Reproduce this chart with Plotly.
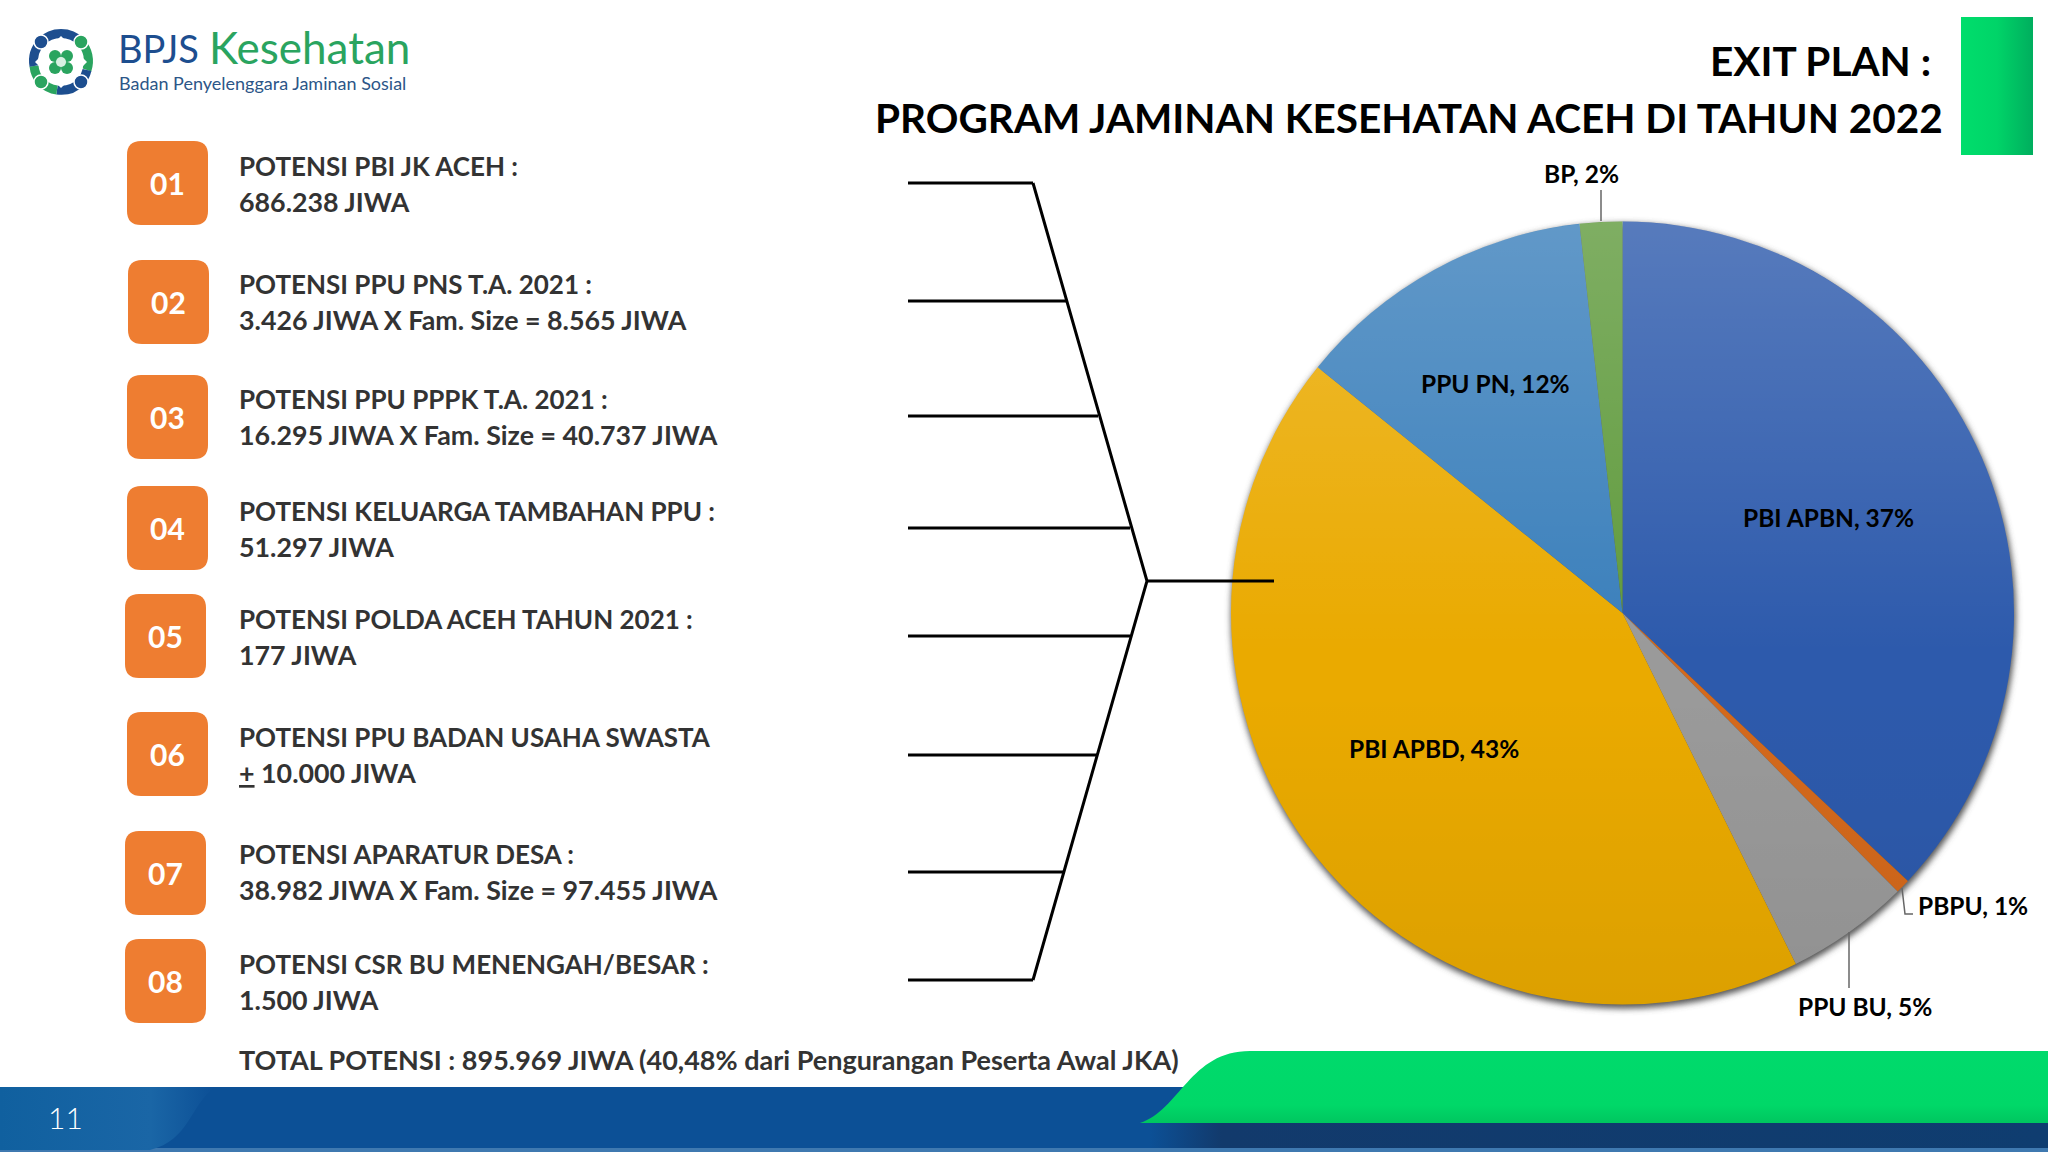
import base64
import plotly.graph_objects as go

W = 2048
H = 1152
FONT = "Lato"

# pie data
labels = ["PBI APBN", "PBPU", "PPU BU", "PBI APBD", "PPU PN", "BP"]
values = [37.0, 0.6, 5.1, 43.1, 12.45, 1.75]
colors = ["#2d5aac", "#d4691c", "#9a9a9a", "#eaaa00", "#3a7fbb", "#5f9a3c"]

item_numbers = ["01", "02", "03", "04", "05", "06", "07", "08"]
item_first = [
    "POTENSI PBI JK ACEH :",
    "POTENSI PPU PNS T.A. 2021 :",
    "POTENSI PPU PPPK T.A. 2021 :",
    "POTENSI KELUARGA TAMBAHAN PPU :",
    "POTENSI POLDA ACEH TAHUN 2021 :",
    "POTENSI PPU BADAN USAHA SWASTA",
    "POTENSI APARATUR DESA :",
    "POTENSI CSR BU MENENGAH/BESAR :",
]
item_second = [
    "686.238 JIWA",
    "3.426 JIWA X Fam. Size = 8.565 JIWA",
    "16.295 JIWA X Fam. Size = 40.737 JIWA",
    "51.297 JIWA",
    "177 JIWA",
    "<u>+</u> 10.000 JIWA",
    "38.982 JIWA X Fam. Size = 97.455 JIWA",
    "1.500 JIWA",
]
total_text = "TOTAL POTENSI : 895.969 JIWA (40,48% dari Pengurangan Peserta Awal JKA)"

# layout, in page pixels
box_left = [127, 128, 127, 127, 125, 127, 125, 125]
box_top = [141, 260, 375, 486, 594, 712, 831, 939]
text_y = [166, 284, 399, 511, 619, 737, 854, 964]
stub_y = [183, 301, 416, 528, 636, 755, 872, 980]
stub_end = [1033, 1066, 1098, 1130, 1130, 1098, 1065, 1033]
PIE_L, PIE_R, PIE_T, PIE_B = 1231, 2014, 221, 1005
# name, x, y, anchor of each slice label
slice_text = [
    ("PBI APBN", 1828, 517, "center"),
    ("PPU PN", 1495, 383, "center"),
    ("PBI APBD", 1434, 748, "center"),
    ("BP", 1581, 174, "center"),
    ("PBPU", 1916, 905, "left"),
    ("PPU BU", 1865, 1006, "center"),
]


def px(x):
    return x / W


def py(y):
    return 1 - y / H


def svg_uri(body):
    svg = f'<svg xmlns="http://www.w3.org/2000/svg" width="{W}" height="{H}" viewBox="0 0 {W} {H}">{body}</svg>'
    return "data:image/svg+xml;base64," + base64.b64encode(svg.encode()).decode()


def full_image(body, layer):
    return dict(source=svg_uri(body), xref="paper", yref="paper", x=0, y=1, sizex=1, sizey=1,
                xanchor="left", yanchor="top", sizing="stretch", layer=layer)


def text(x, y, s, size, color="#333333", anchor="left", weight=700):
    return dict(x=px(x), y=py(y), xref="paper", yref="paper", text=s, showarrow=False,
                xanchor=anchor, yanchor="middle", align=anchor,
                font=dict(family=FONT, size=size, color=color, weight=weight))


def line(points, color="#000000", width=3):
    path = "M " + " L ".join(f"{px(x)},{py(y)}" for x, y in points)
    return dict(type="path", path=path, xref="paper", yref="paper", line=dict(color=color, width=width))


cx = (PIE_L + PIE_R) / 2
cy = (PIE_T + PIE_B) / 2
r = (PIE_R - PIE_L) / 2

# logo emblem, roughly
lx, ly = 61, 62
ring = (
    f'<g fill="none" stroke-width="9">'
    f'<path d="M{lx - 20},{ly - 20} A28,28 0 0 1 {lx + 20},{ly - 20}" stroke="#1d4e8f"/>'
    f'<path d="M{lx + 20},{ly - 20} A28,28 0 0 1 {lx + 26},{ly + 8}" stroke="#2aa45f"/>'
    f'<path d="M{lx + 26},{ly + 8} A28,28 0 0 1 {lx + 20},{ly + 20}" stroke="#1d4e8f"/>'
    f'<path d="M{lx + 20},{ly + 20} A28,28 0 0 1 {lx - 4},{ly + 28}" stroke="#1d4e8f"/>'
    f'<path d="M{lx - 4},{ly + 28} A28,28 0 0 1 {lx - 20},{ly + 20}" stroke="#2aa45f"/>'
    f'<path d="M{lx - 20},{ly + 20} A28,28 0 0 1 {lx - 27},{ly + 4}" stroke="#2aa45f"/>'
    f'<path d="M{lx - 27},{ly + 4} A28,28 0 0 1 {lx - 20},{ly - 20}" stroke="#1d4e8f"/>'
    f'</g>'
    f'<polygon points="{lx},{ly - 26} {lx + 26},{ly} {lx},{ly + 26} {lx - 26},{ly}" fill="#ffffff"/>'
)
for dx, dy, c in [(-20, -20, "#1d4e8f"), (20, -20, "#2aa45f"), (-20, 20, "#2aa45f"), (20, 20, "#1d4e8f")]:
    ring += f'<circle cx="{lx + dx}" cy="{ly + dy}" r="7" fill="{c}" stroke="#ffffff" stroke-width="1.5"/>'
for dx, dy in [(-6, -6), (6, -6), (-6, 6), (6, 6)]:
    ring += f'<circle cx="{lx + dx}" cy="{ly + dy}" r="6" fill="#2aa45f"/>'
ring += f'<circle cx="{lx}" cy="{ly}" r="5" fill="#d8f0e2"/>'

back = f"""
<defs>
<linearGradient id="bar" x1="0" x2="1" y1="0" y2="0"><stop offset="0" stop-color="#00de6c"/><stop offset="0.5" stop-color="#00d468"/><stop offset="1" stop-color="#00ae5e"/></linearGradient>
<linearGradient id="swoosh" x1="0" x2="0" y1="0" y2="1"><stop offset="0" stop-color="#00da6c"/><stop offset="0.75" stop-color="#00d868"/><stop offset="1" stop-color="#00c65f"/></linearGradient>
<linearGradient id="corner" x1="0" x2="1" y1="0" y2="0"><stop offset="0" stop-color="#10609f"/><stop offset="0.7" stop-color="#1a66a6"/><stop offset="1" stop-color="#0c4f96"/></linearGradient>
<linearGradient id="under" x1="0" x2="1" y1="0" y2="0"><stop offset="0" stop-color="#0c5096"/><stop offset="0.08" stop-color="#123a6c"/><stop offset="1" stop-color="#0f3d70"/></linearGradient>
<filter id="blur" x="-10%" y="-10%" width="120%" height="120%"><feGaussianBlur stdDeviation="3"/></filter>
</defs>
<circle cx="{cx + 1}" cy="{cy + 3}" r="{r + 1}" fill="#555555" filter="url(#blur)"/>
<rect x="1961" y="17" width="72" height="138" fill="url(#bar)"/>
<rect x="0" y="1087" width="{W}" height="63" fill="#0c5096"/>
<rect x="0" y="1148" width="{W}" height="4" fill="#3f79b0"/>
<path d="M0,1087 L215,1087 C190,1105 190,1140 150,1150 L0,1150 Z" fill="url(#corner)"/>
<rect x="1150" y="1123" width="{W - 1150}" height="25" fill="url(#under)"/>
<path d="M1140,1123 C1180,1110 1190,1051 1250,1051 L{W},1051 L{W},1123 Z" fill="url(#swoosh)"/>
{ring}
"""

front = f"""
<defs><linearGradient id="shade" x1="0" x2="0" y1="0" y2="1">
<stop offset="0" stop-color="#ffffff" stop-opacity="0.2"/>
<stop offset="0.55" stop-color="#ffffff" stop-opacity="0"/>
<stop offset="0.6" stop-color="#000000" stop-opacity="0"/>
<stop offset="1" stop-color="#000000" stop-opacity="0.06"/>
</linearGradient></defs>
<circle cx="{cx}" cy="{cy}" r="{r}" fill="url(#shade)"/>
"""

fig = go.Figure(
    go.Pie(
        labels=labels,
        values=values,
        sort=False,
        direction="clockwise",
        rotation=0,
        marker=dict(colors=colors, line=dict(width=0)),
        textinfo="none",
        domain=dict(x=[px(PIE_L), px(PIE_R)], y=[py(PIE_B), py(PIE_T)]),
        showlegend=False,
        hoverinfo="skip",
    )
)

shapes = []
annotations = []

for i, num in enumerate(item_numbers):
    x0, y0 = box_left[i], box_top[i]
    x1, y1, c = x0 + 81, y0 + 84, 14
    path = (f"M {px(x0 + c)},{py(y0)} L {px(x1 - c)},{py(y0)} Q {px(x1)},{py(y0)} {px(x1)},{py(y0 + c)} "
            f"L {px(x1)},{py(y1 - c)} Q {px(x1)},{py(y1)} {px(x1 - c)},{py(y1)} "
            f"L {px(x0 + c)},{py(y1)} Q {px(x0)},{py(y1)} {px(x0)},{py(y1 - c)} "
            f"L {px(x0)},{py(y0 + c)} Q {px(x0)},{py(y0)} {px(x0 + c)},{py(y0)} Z")
    shapes.append(dict(type="path", path=path, xref="paper", yref="paper", fillcolor="#ee7d31", line=dict(width=0)))
    annotations.append(text(x0 + 40, y0 + 42, num, 30, color="#ffffff", anchor="center"))
    annotations.append(text(237, text_y[i], item_first[i], 26))
    annotations.append(text(237, text_y[i] + 36, item_second[i], 26.8))
    shapes.append(line([(908, stub_y[i]), (stub_end[i], stub_y[i])]))

# bracket joining the items to the pie
shapes.append(line([(1033, 183), (1147, 581), (1033, 980)]))
shapes.append(line([(1147, 581), (1274, 581)]))

# leader lines of the small slices
shapes.append(line([(1601, 190), (1601, 221)], color="#666666", width=1.5))
shapes.append(line([(1902, 888), (1905, 914), (1913, 914)], color="#666666", width=1.5))
shapes.append(line([(1849, 932), (1849, 988)], color="#666666", width=1.5))

for name, x, y, anchor in slice_text:
    share = round(values[labels.index(name)])
    annotations.append(text(x, y, f"{name}, {share}%", 24.5, color="#000000", anchor=anchor))

annotations.append(text(237, 1059, total_text, 27))
annotations.append(text(1933, 60, "EXIT PLAN :", 40.5, color="#000000", anchor="right"))
annotations.append(text(1945, 117, "PROGRAM JAMINAN KESEHATAN ACEH DI TAHUN 2022", 40.5, color="#000000", anchor="right"))
annotations.append(text(65, 1117, "11", 30, color="#ffffff", anchor="center", weight=300))

annotations.append(text(116, 48, "BPJS", 38, color="#1d4e8f", weight=400))
annotations.append(text(207, 47, "Kesehatan", 44, color="#2aa45f", weight=400))
annotations.append(text(117, 83, "Badan Penyelenggara Jaminan Sosial", 18, color="#2c5688", weight=400))

fig.update_layout(
    width=W,
    height=H,
    margin=dict(l=0, r=0, t=0, b=0),
    paper_bgcolor="#ffffff",
    images=[full_image(back, "below"), full_image(front, "above")],
    shapes=shapes,
    annotations=annotations,
)

fig.write_html("out.html", config={"displayModeBar": False}, post_script="document.body.style.margin='0'")
